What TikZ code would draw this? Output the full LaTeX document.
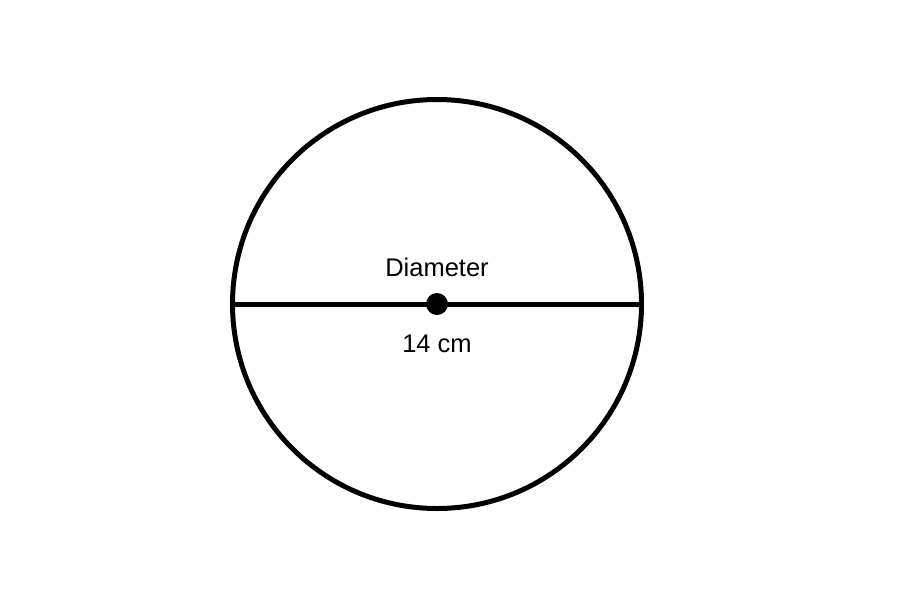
\documentclass[tikz,border=0pt]{standalone}
\usepackage{fontspec}
\setmainfont{Liberation Sans}
\begin{document}
\begin{tikzpicture}[x=1pt, y=-1pt, line width=5pt, lbl/.style={font=\fontsize{25.5}{28}\selectfont, anchor=base}]
    \useasboundingbox (0,0) rectangle (910,595);
    \coordinate (o) at (437,304);
    \draw (o) circle[radius=204.5];
    \coordinate (l) at (232.5,304);
    \coordinate (r) at (641.5,304);
    \draw (l) -- (r);
    \fill (o) circle[radius=11];
    \node[lbl] (d) at (437,276.5) {Diameter};
    \node[lbl] (len) at (437,352) {14 cm};
\end{tikzpicture}
\end{document}
